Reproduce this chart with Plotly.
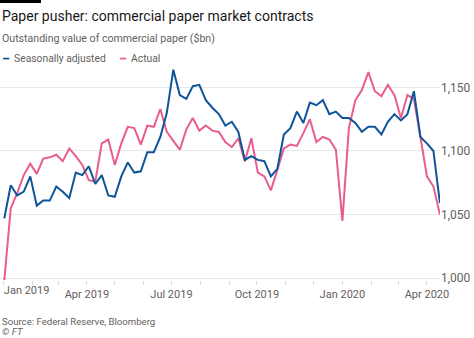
import pandas as pd
import plotly.graph_objects as go

# Weekly observations (Wednesdays), $bn
dates = pd.date_range("2019-01-02", periods=68, freq="7D")

seasonally_adjusted = [
    1047, 1073, 1065, 1068, 1080, 1057, 1061, 1061, 1072, 1068,
    1063, 1083, 1081, 1088, 1074, 1081, 1065, 1064, 1080, 1091,
    1083, 1084, 1099, 1099, 1111, 1130, 1164, 1144, 1141, 1151,
    1152, 1140, 1134, 1129, 1120, 1123, 1115, 1093, 1096, 1093,
    1092, 1080, 1086, 1113, 1118, 1131, 1122, 1138, 1136, 1140,
    1129, 1131, 1126, 1126, 1122, 1115, 1119, 1119, 1113, 1123,
    1129, 1124, 1129, 1147, 1111, 1106, 1100, 1059,
]

actual = [
    998, 1055, 1067, 1081, 1090, 1082, 1094, 1095, 1097, 1092,
    1102, 1096, 1089, 1077, 1076, 1106, 1109, 1089, 1106, 1119,
    1118, 1105, 1120, 1119, 1133, 1115, 1108, 1101, 1117, 1126,
    1116, 1120, 1116, 1115, 1107, 1103, 1110, 1092, 1110, 1083,
    1080, 1069, 1085, 1102, 1105, 1104, 1114, 1125, 1107, 1111,
    1109, 1101, 1045, 1118, 1140, 1148, 1162, 1147, 1143, 1152,
    1144, 1126, 1144, 1141, 1111, 1080, 1072, 1050,
]

x_tickvals = ["2019-04-01", "2019-07-01", "2019-10-01", "2020-01-01", "2020-04-01"]
x_ticktext = ["Apr 2019", "Jul 2019", "Oct 2019", "Jan 2020", "Apr 2020"]
first_tickval = ["2019-01-01"]
first_ticktext = ["Jan 2019"]
y_tickvals = [1000, 1050, 1100, 1150]

BLUE = "#0f5499"
PINK = "#e95d8c"
GREY = "#66605c"
FONT = "Roboto"

fig = go.Figure()
fig.add_trace(go.Scatter(x=dates, y=actual, mode="lines", name="Actual",
                         line=dict(color=PINK, width=2)))
fig.add_trace(go.Scatter(x=dates, y=seasonally_adjusted, mode="lines",
                         name="Seasonally adjusted",
                         line=dict(color=BLUE, width=2)))

xrange = ["2018-12-28 10:00", "2020-04-15 02:00"]

fig.update_layout(
    width=474, height=338,
    margin=dict(l=0, r=34, t=62, b=58),
    paper_bgcolor="white", plot_bgcolor="white",
    showlegend=False,
    font=dict(family=FONT, size=11, color=GREY),
    xaxis=dict(
        range=xrange, type="date",
        tickvals=x_tickvals, ticktext=x_ticktext,
        ticks="outside", ticklen=4, tickcolor="#d9d9d9",
        minor=dict(ticks="outside", ticklen=4, tickcolor="#d9d9d9",
                   dtick="M1", tick0="2019-01-01", showgrid=False),
        showgrid=False, showline=False, zeroline=False,
        tickfont=dict(size=11, color=GREY),
    ),
    xaxis2=dict(
        range=xrange, type="date", overlaying="x", side="bottom",
        matches="x", anchor="y",
        tickvals=first_tickval, ticktext=first_ticktext,
        ticks="outside", ticklen=4, tickcolor="#d9d9d9",
        ticklabelposition="outside right",
        showgrid=False, showline=False, zeroline=False,
        tickfont=dict(size=11, color=GREY),
    ),
    yaxis=dict(
        range=[998.5, 1170], side="right",
        tickvals=y_tickvals, tickformat=",",
        showgrid=True, gridcolor="#e8e8e8", gridwidth=1,
        zeroline=False, showline=False, ticks="",
        tickfont=dict(size=12, color=GREY),
    ),
)
# invisible trace for the secondary x axis so its label renders
fig.add_trace(go.Scatter(x=[dates[0]], y=[actual[0]], xaxis="x2",
                         mode="markers", marker=dict(opacity=0),
                         hoverinfo="skip", showlegend=False))

ph = 218.0
def py(pixel):
    return 1 + (62 - pixel) / ph

fig.add_annotation(text="Paper pusher: commercial paper market contracts",
                   xref="paper", yref="paper", x=0, y=py(16), xanchor="left",
                   yanchor="middle", showarrow=False,
                   font=dict(size=14, color="#1a1817", family=FONT))
fig.add_annotation(text="Outstanding value of commercial paper ($bn)",
                   xref="paper", yref="paper", x=0, y=py(38), xanchor="left",
                   yanchor="middle", showarrow=False,
                   font=dict(size=10.6, color=GREY, family=FONT))
fig.add_annotation(text=f"<span style='color:{BLUE}'>━</span>  Seasonally adjusted",
                   xref="paper", yref="paper", x=0, y=py(59), xanchor="left",
                   yanchor="middle", showarrow=False,
                   font=dict(size=10.3, color=GREY, family=FONT))
fig.add_annotation(text=f"<span style='color:{PINK}'>━</span>  Actual",
                   xref="paper", yref="paper", x=117 / 440, y=py(59), xanchor="left",
                   yanchor="middle", showarrow=False,
                   font=dict(size=10.3, color=GREY, family=FONT))
fig.add_annotation(text="Source: Federal Reserve, Bloomberg",
                   xref="paper", yref="paper", x=0, y=py(321), xanchor="left",
                   yanchor="middle", showarrow=False,
                   font=dict(size=9.6, color=GREY, family=FONT))
fig.add_annotation(text="<i>© FT</i>",
                   xref="paper", yref="paper", x=0, y=py(331), xanchor="left",
                   yanchor="middle", showarrow=False,
                   font=dict(size=9.6, color=GREY, family=FONT))
fig.add_shape(type="rect", xref="paper", yref="paper",
              x0=0, x1=41 / 440, y0=py(3), y1=py(0),
              fillcolor="black", line=dict(width=0))

fig.write_html("out.html")
